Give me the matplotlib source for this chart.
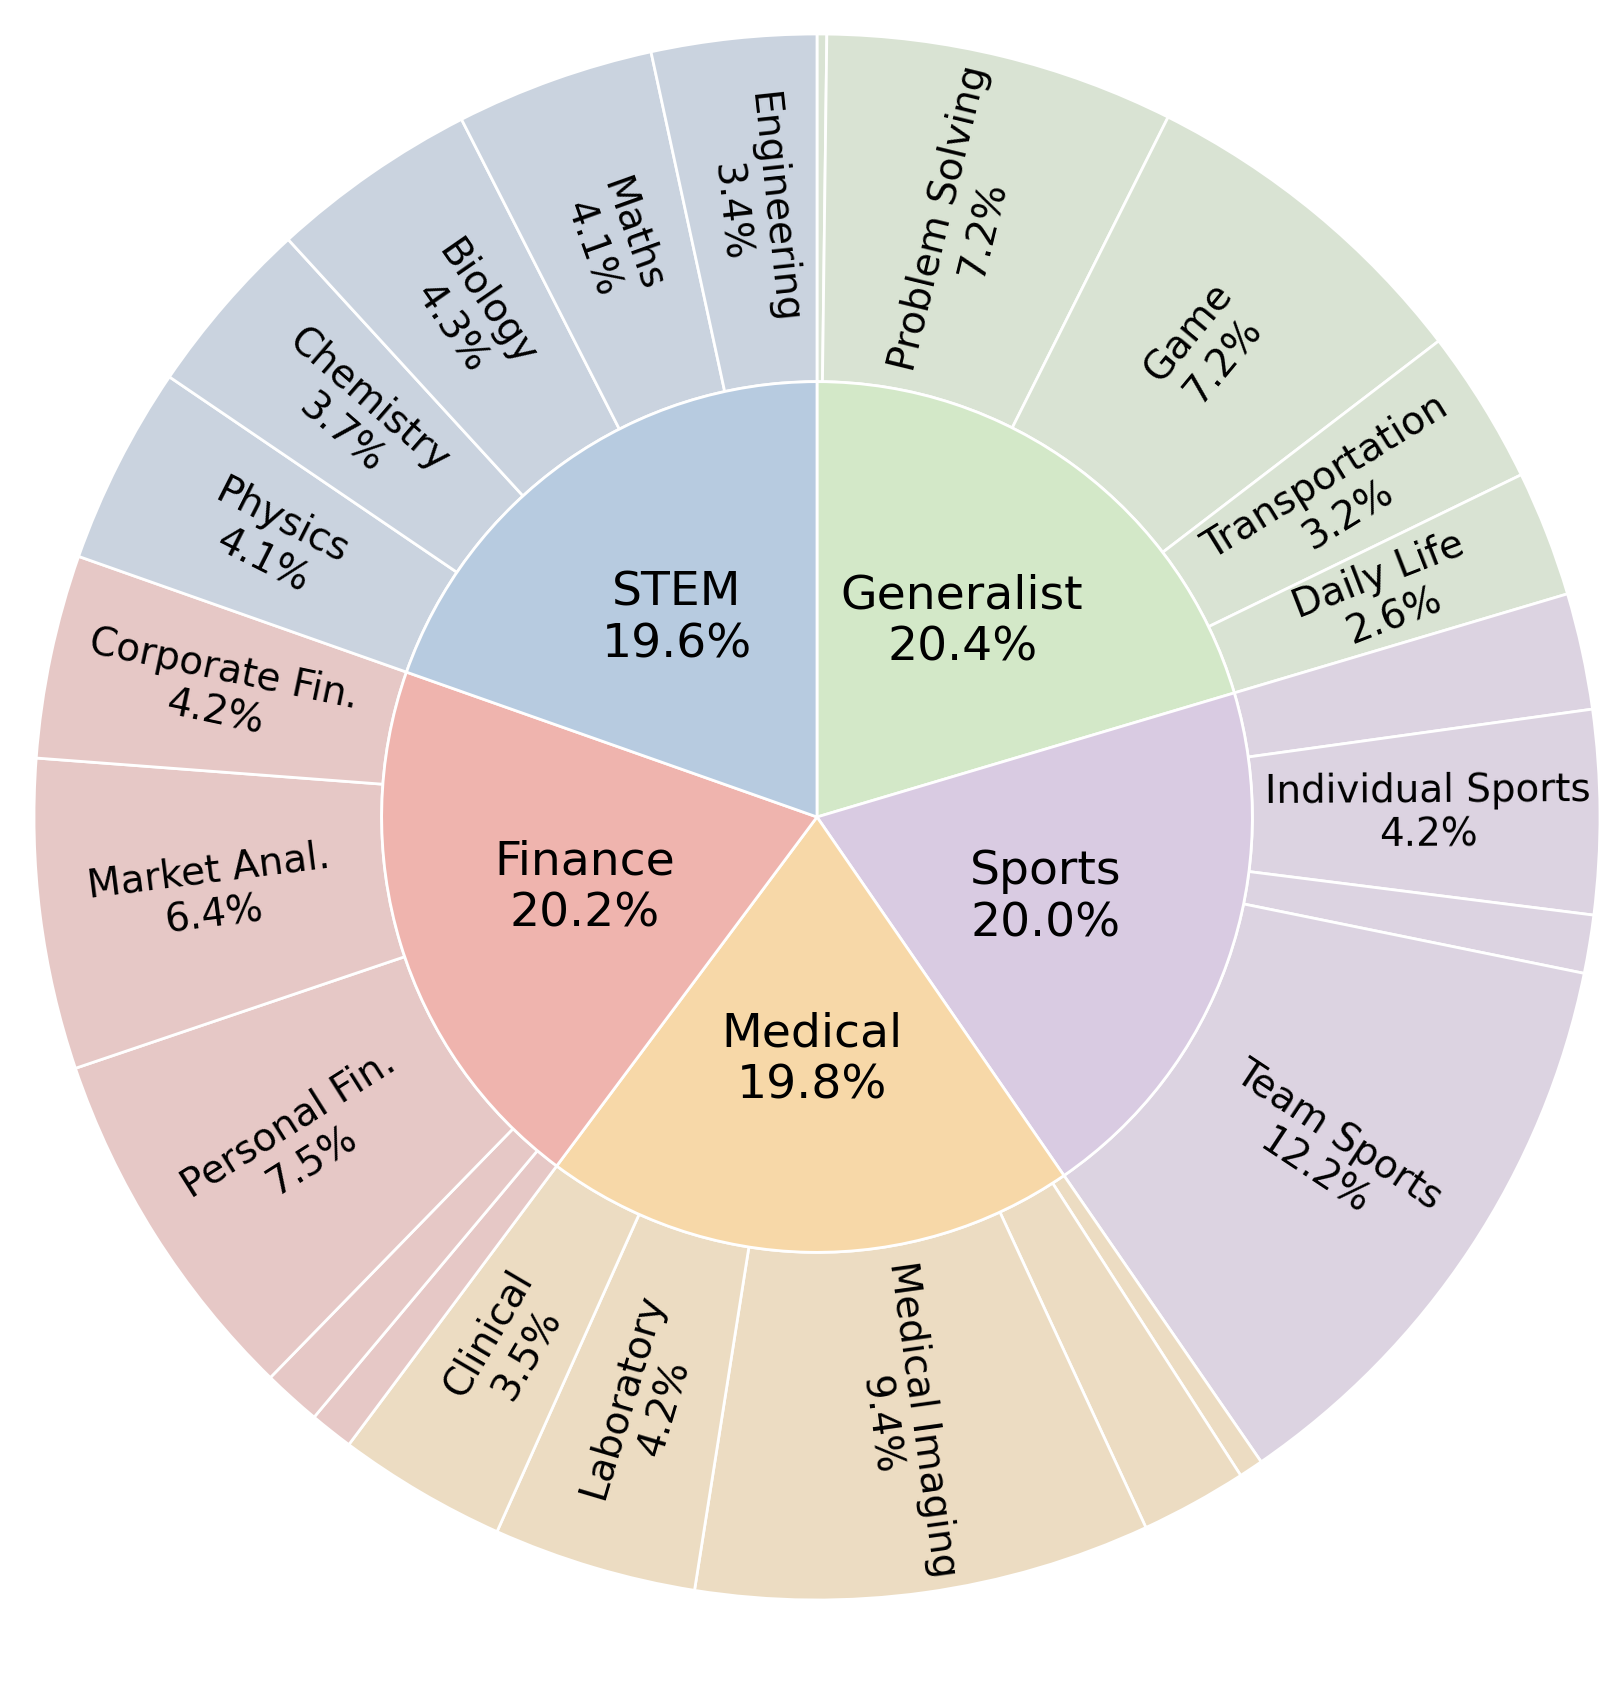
import numpy as np
import matplotlib
matplotlib.use("Agg")
import matplotlib.pyplot as plt

# --- data (clockwise from 12 o'clock) ---
groups = ["Generalist", "Sports", "Medical", "Finance", "STEM"]
group_values = [20.4, 20.0, 19.8, 20.2, 19.6]

generalist_names = ["Other", "Problem Solving", "Game", "Transportation", "Daily Life"]
generalist_values = [0.2, 7.2, 7.2, 3.2, 2.6]
sports_names = ["Other", "Individual Sports", "Other", "Team Sports"]
sports_values = [2.4, 4.2, 1.2, 12.2]
medical_names = ["Other", "Other", "Medical Imaging", "Laboratory", "Clinical"]
medical_values = [0.5, 2.2, 9.4, 4.2, 3.5]
finance_names = ["Other", "Other", "Personal Fin.", "Market Anal.", "Corporate Fin."]
finance_values = [0.9, 1.2, 7.5, 6.4, 4.2]
stem_names = ["Physics", "Chemistry", "Biology", "Maths", "Engineering"]
stem_values = [4.1, 3.7, 4.3, 4.1, 3.4]

inner_colors = ["#d3e8c8", "#d9cbe2", "#f7d8a8", "#efb4ae", "#b7cbe0"]
outer_colors = ["#d9e3d3", "#dcd3e1", "#ecdcc2", "#e6c8c6", "#cad3df"]

LABEL_MIN = 2.5   # outer slices smaller than this stay unlabeled

sub_names = [generalist_names, sports_names, medical_names, finance_names, stem_names]
sub_values = [generalist_values, sports_values, medical_values, finance_values, stem_values]

W, H = 1620, 1684
fig = plt.figure(figsize=(W / 100, H / 100), dpi=100)
cx, cy, R = 817, 817, 783
ax = fig.add_axes([(cx - R) / W, (H - cy - R) / H, 2 * R / W, 2 * R / H])

outer_vals = [v for vals in sub_values for v in vals]
outer_cols = [outer_colors[i] for i, vals in enumerate(sub_values) for _ in vals]
outer_lbls = [n for names in sub_names for n in names]

wedge_kw = dict(edgecolor="white", linewidth=2)
ax.pie(outer_vals, radius=1.0, colors=outer_cols, startangle=90,
       counterclock=False, wedgeprops=dict(width=0.444, **wedge_kw))
ax.pie(group_values, radius=0.556, colors=inner_colors, startangle=90,
       counterclock=False, wedgeprops=wedge_kw)
ax.set_xlim(-1, 1)
ax.set_ylim(-1, 1)
ax.set_aspect("equal")
ax.axis("off")


def mid_angles(values):
    total = 100.0
    cum = np.cumsum([0] + list(values))
    return [90 - 360 * (a + b) / 2 / total for a, b in zip(cum[:-1], cum[1:])]


for name, val, ang in zip(groups, group_values, mid_angles(group_values)):
    t = np.deg2rad(ang)
    ax.text(0.31 * np.cos(t), 0.31 * np.sin(t), f"{name}\n{val:.1f}%",
            ha="center", va="center", fontsize=34)

for name, val, ang in zip(outer_lbls, outer_vals, mid_angles(outer_vals)):
    if val < LABEL_MIN:
        continue
    t = np.deg2rad(ang)
    rot = ang if np.cos(t) >= 0 else ang + 180
    ax.text(0.78 * np.cos(t), 0.78 * np.sin(t), f"{name}\n{val:.1f}%",
            ha="center", va="center", rotation=rot, rotation_mode="anchor",
            fontsize=28)

fig.savefig("out.png", dpi=100)
